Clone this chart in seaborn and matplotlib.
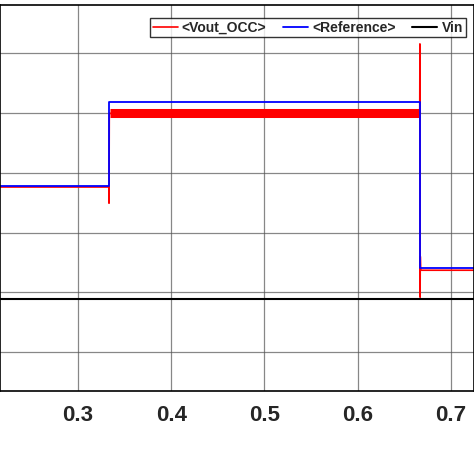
import matplotlib
matplotlib.use("Agg")
import matplotlib.pyplot as plt
import seaborn as sns
import pandas as pd

sns.set_style("white")
plt.rcParams['font.family'] = ['Liberation Sans', 'DejaVu Sans']

# Reference step signal
ref_t = [0.20, 0.3333, 0.3333, 0.6667, 0.6667, 0.75]
ref_v = [2.78, 2.78, 4.18, 4.18, 1.40, 1.40]
# Vout_OCC with transients
out_t = [0.20, 0.3333, 0.3333, 0.3336, 0.3340, 0.6665, 0.6667, 0.6669, 0.6671, 0.6675, 0.75]
out_v = [2.76, 2.76, 2.49, 3.99, 3.99, 3.99, 5.15, 0.92, 1.60, 1.37, 1.37]
# Vin
vin_t = [0.20, 0.75]
vin_v = [0.89, 0.89]

fig = plt.figure(figsize=(4.74, 4.74), dpi=100)
ax = fig.add_axes([0, 1 - 391/474, 1, 386/474])

df_out = pd.DataFrame({"t": out_t, "v": out_v})
df_ref = pd.DataFrame({"t": ref_t, "v": ref_v})
df_vin = pd.DataFrame({"t": vin_t, "v": vin_v})

sns.lineplot(data=df_out, x="t", y="v", color="red", lw=1.2, sort=False, estimator=None, ax=ax, label="<Vout_OCC>")
ax.plot([0.3340, 0.6665], [3.99, 3.99], color="red", lw=6.5, solid_capstyle="butt")
sns.lineplot(data=df_ref, x="t", y="v", color="blue", lw=1.3, sort=False, estimator=None, ax=ax, label="<Reference>")
sns.lineplot(data=df_vin, x="t", y="v", color="black", lw=1.5, sort=False, estimator=None, ax=ax, label="Vin")

ax.set_xlim(0.2164, 0.7247)
ax.set_ylim(-0.647, 5.80)
ax.set_xticks([0.3, 0.4, 0.5, 0.6, 0.7])
ax.set_yticks([0, 1, 2, 3, 4, 5])
ax.set_yticklabels([])
ax.tick_params(axis='x', labelsize=16, direction='in', length=5, width=1, pad=10)
for lab in ax.get_xticklabels():
    lab.set_fontweight("bold")
ax.grid(True, color="#555555", lw=0.9, alpha=0.7)
ax.set_xlabel("")
ax.set_ylabel("")
for s in ax.spines.values():
    s.set_linewidth(1.2)
    s.set_color("black")

leg = ax.legend(loc="upper right", ncol=3, fontsize=10, frameon=True, fancybox=False,
                edgecolor="black", handlelength=1.8, columnspacing=1.2, handletextpad=0.3,
                borderpad=0.2, bbox_to_anchor=(0.997, 0.985))
for t in leg.get_texts():
    t.set_fontweight("bold")

fig.savefig("out.png", dpi=100)
